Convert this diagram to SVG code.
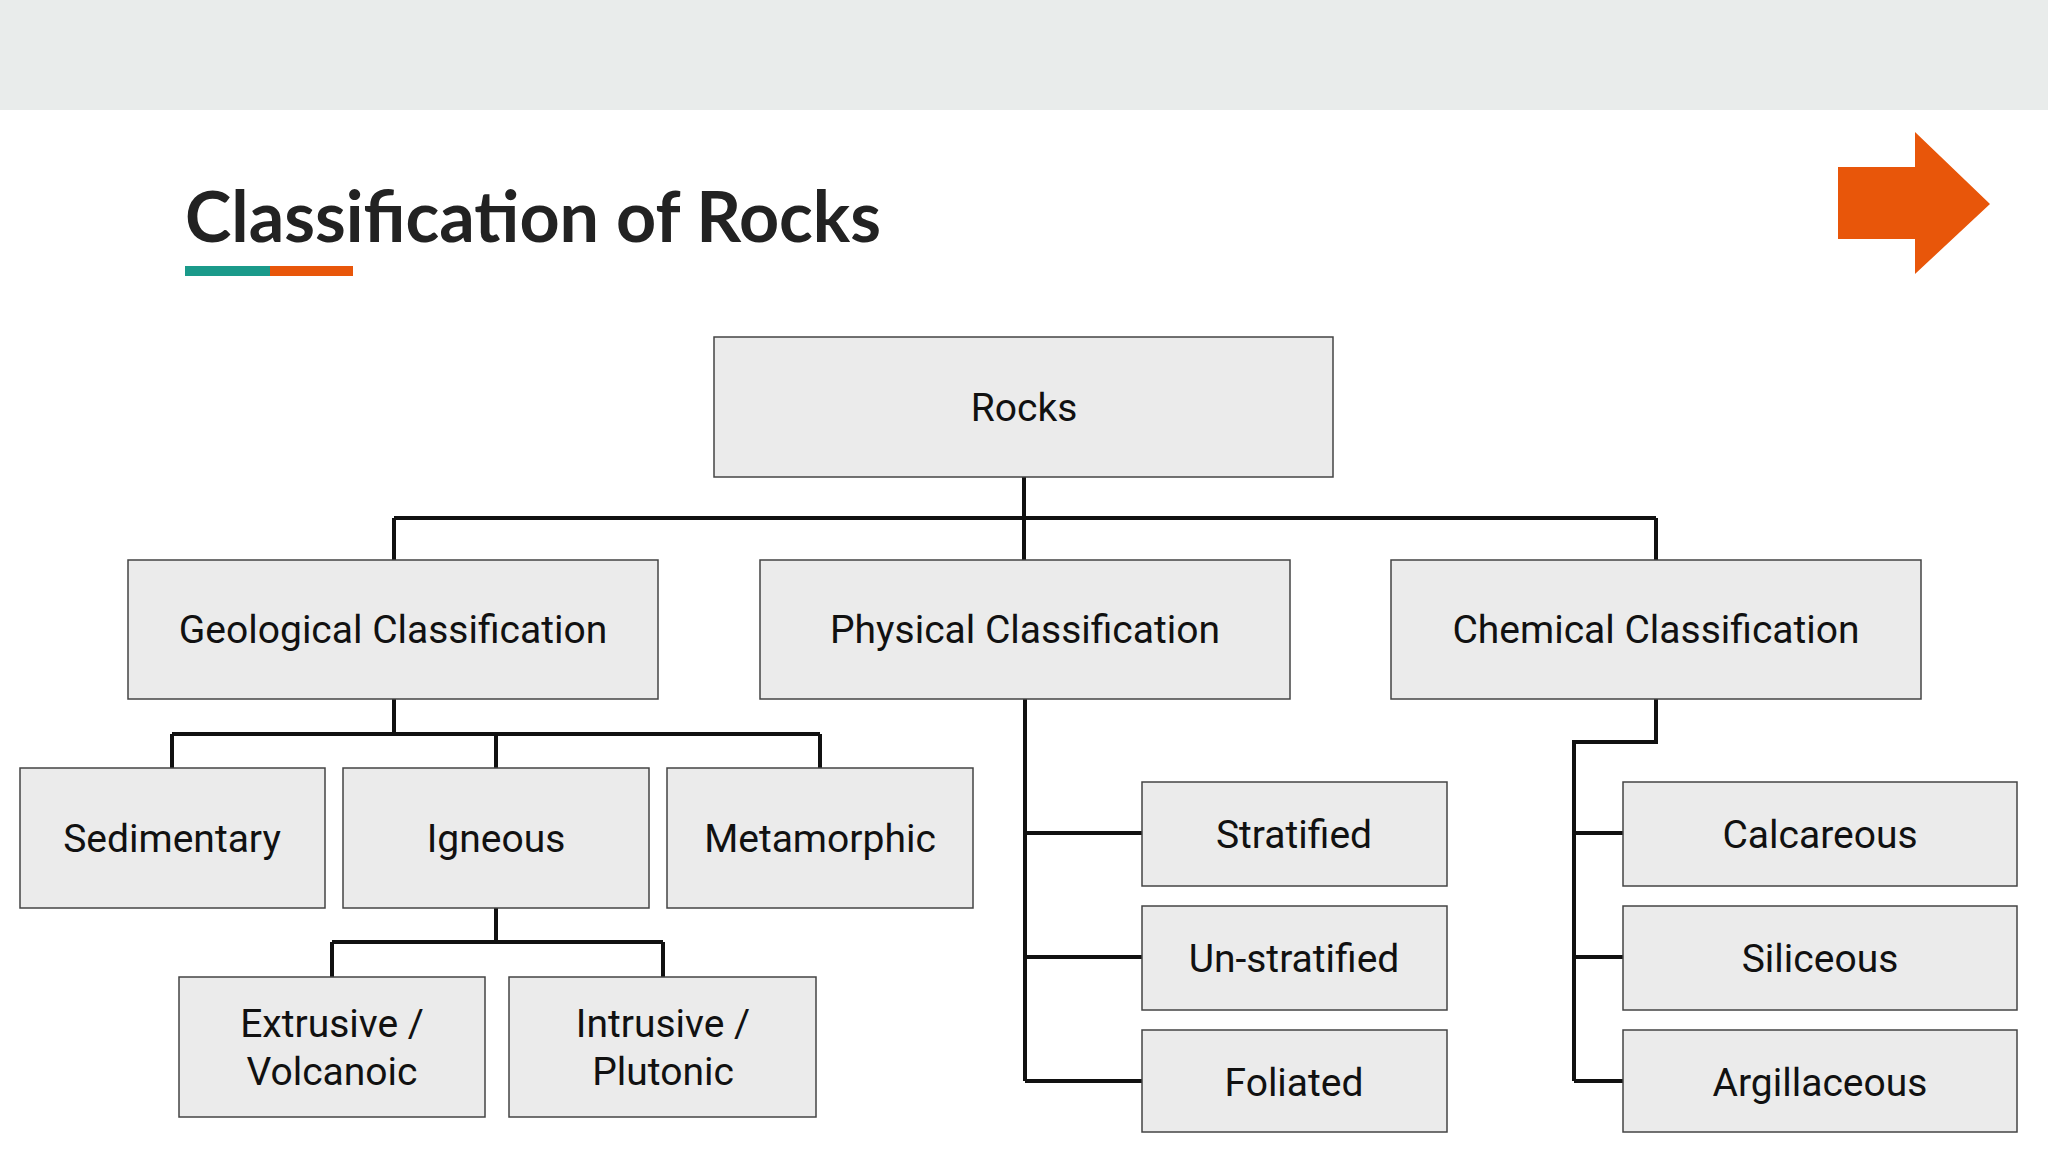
<svg xmlns="http://www.w3.org/2000/svg" width="2048" height="1152" viewBox="0 0 2048 1152">
<style>
.b rect{fill:#ebebeb;stroke:#444;stroke-width:1.5}
.b text{font-family:Roboto,"Liberation Sans",sans-serif;font-size:39px;fill:#111;text-anchor:middle;dominant-baseline:central}
#c path{fill:none;stroke:#111;stroke-width:4}
</style>
<rect width="2048" height="1152" fill="#fff"/>
<rect width="2048" height="110" fill="#e9eceb"/>
<text x="185" y="242" font-family="Lato,'Open Sans',sans-serif" font-weight="bold" font-size="70" fill="#222">Classification of Rocks</text>
<rect x="185" y="266" width="85" height="10" fill="#1a9a8a"/>
<rect x="270" y="266" width="83" height="10" fill="#e8560a"/>
<path d="M1838 167H1915V132L1990 204L1915 274V239H1838Z" fill="#e8560a"/>
<g id="c">
<path d="M1024 477V518M394 518H1656M394 518V560M1024 518V560M1656 518V560"/>
<path d="M394 699V734M172 734H820M172 734V768M496 734V768M820 734V768"/>
<path d="M496 908V942M332 942H663M332 942V977M663 942V977"/>
<path d="M1025 699V1081M1025 833H1142M1025 957H1142M1025 1081H1142"/>
<path d="M1656 699V742H1574V1081M1574 833H1623M1574 957H1623M1574 1081H1623"/>
</g>
<g id="rocks" class="b"><rect x="714" y="337" width="619" height="140"/><text x="1024" y="408">Rocks</text></g>
<g id="geo" class="b"><rect x="128" y="560" width="530" height="139"/><text x="393" y="630">Geological Classification</text></g>
<g id="phys" class="b"><rect x="760" y="560" width="530" height="139"/><text x="1025" y="630">Physical Classification</text></g>
<g id="chem" class="b"><rect x="1391" y="560" width="530" height="139"/><text x="1656" y="630">Chemical Classification</text></g>
<g id="sed" class="b"><rect x="20" y="768" width="305" height="140"/><text x="172" y="839">Sedimentary</text></g>
<g id="ign" class="b"><rect x="343" y="768" width="306" height="140"/><text x="496" y="839">Igneous</text></g>
<g id="meta" class="b"><rect x="667" y="768" width="306" height="140"/><text x="820" y="839">Metamorphic</text></g>
<g id="ext" class="b"><rect x="179" y="977" width="306" height="140"/><text x="332" y="1024">Extrusive /</text><text x="332" y="1072">Volcanoic</text></g>
<g id="int" class="b"><rect x="509" y="977" width="307" height="140"/><text x="663" y="1024">Intrusive /</text><text x="663" y="1072">Plutonic</text></g>
<g id="strat" class="b"><rect x="1142" y="782" width="305" height="104"/><text x="1294" y="835">Stratified</text></g>
<g id="unstrat" class="b"><rect x="1142" y="906" width="305" height="104"/><text x="1294" y="959">Un-stratified</text></g>
<g id="fol" class="b"><rect x="1142" y="1030" width="305" height="102"/><text x="1294" y="1083">Foliated</text></g>
<g id="calc" class="b"><rect x="1623" y="782" width="394" height="104"/><text x="1820" y="835">Calcareous</text></g>
<g id="sil" class="b"><rect x="1623" y="906" width="394" height="104"/><text x="1820" y="959">Siliceous</text></g>
<g id="arg" class="b"><rect x="1623" y="1030" width="394" height="102"/><text x="1820" y="1083">Argillaceous</text></g>
</svg>
